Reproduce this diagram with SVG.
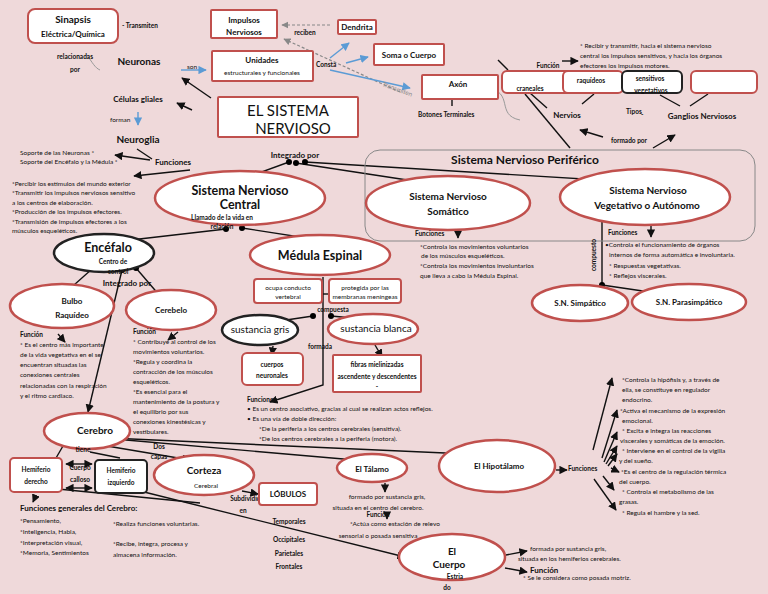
<svg xmlns="http://www.w3.org/2000/svg" width="768" height="594" viewBox="0 0 768 594">
<style>
text{font-family:Lato,"Liberation Sans",sans-serif;fill:#111}
.b{font-weight:bold}
.s{font-size:6.5px}
.m{font-size:8px}
.n{font-size:10px}
.L{font-size:12.5px;font-weight:bold}
.c{text-anchor:middle}
.box{fill:#fff;stroke:#c0504d;stroke-width:2}
.dbox{fill:#fff;stroke:#222;stroke-width:2}
.el{fill:#fff;stroke:#c0504d;stroke-width:2.5}
.del{fill:#fff;stroke:#222;stroke-width:2.5}
.ln{stroke:#111;stroke-width:1.4;fill:none}
.bl{stroke:#5b9bd5;stroke-width:1.4;fill:none}
.gd{stroke:#888;stroke-width:1.2;stroke-dasharray:3 2;fill:none}
.g{stroke:#999;stroke-width:1;fill:none}
</style>
<defs>
<marker id="a" viewBox="0 0 10 10" refX="9" refY="5" markerWidth="6" markerHeight="6" orient="auto"><path d="M0,0L10,5L0,10z" fill="#111"/></marker>
<marker id="ab" viewBox="0 0 10 10" refX="9" refY="5" markerWidth="6" markerHeight="6" orient="auto"><path d="M0,0L10,5L0,10z" fill="#5b9bd5"/></marker>
<marker id="ag" viewBox="0 0 10 10" refX="9" refY="5" markerWidth="6" markerHeight="6" orient="auto"><path d="M0,0L10,5L0,10z" fill="#888"/></marker>
<marker id="as" viewBox="0 0 10 10" refX="1" refY="5" markerWidth="6" markerHeight="6" orient="auto"><path d="M10,0L0,5L10,10z" fill="#111"/></marker>
</defs>
<rect width="768" height="594" fill="#efd9da"/>

<g id="connectors">
<path class="gd" d="M330,25H282" marker-end="url(#ag)"/>
<path class="gd" d="M400,92L284,39" marker-end="url(#ag)"/>
<path class="bl" d="M181,70H206" marker-end="url(#ab)"/>
<path class="bl" d="M330,58L349,43" marker-end="url(#ab)"/>
<path class="bl" d="M346,63L368,57" marker-end="url(#ab)"/>
<path class="bl" d="M330,70L410,88" marker-end="url(#ab)"/>
<path class="bl" d="M138,112V125" marker-end="url(#ab)"/>
<path class="ln" d="M211,98L182,78" marker-end="url(#a)"/>
<path class="ln" d="M192,110L177,103" marker-end="url(#a)"/>
<path class="g" d="M87,55C92,62 95,68 100,70"/>
<path class="g" d="M487,88C515,92 495,115 520,120"/>
<path class="ln" d="M452,99V106"/>
<path class="ln" d="M137,149L152,159"/>
<path class="ln" d="M150,160L115,155" marker-end="url(#a)"/>
<path class="ln" d="M190,170L134,176" marker-end="url(#a)"/>
<path class="ln" d="M289,162L240,180" marker-end="url(#a)"/>
<path class="ln" d="M296,163L440,185" marker-end="url(#a)"/>
<path class="ln" d="M305,162L650,183" marker-end="url(#a)"/>
<circle cx="289" cy="162" r="3"/><circle cx="296" cy="163" r="3"/><circle cx="305" cy="162" r="3"/>
<path class="ln" d="M498,60L508,70"/>
<path class="ln" d="M562,61H578" marker-end="url(#a)"/>
<path class="ln" d="M530,93L547,108"/>
<path class="ln" d="M594,94L582,104"/>
<path class="ln" d="M660,95L680,106"/>
<path class="ln" d="M708,94L690,106"/>
<path class="ln" d="M525,94L570,148" stroke-width="0.8"/>
<path class="ln" d="M603,137L580,130" marker-end="url(#a)"/>
<path class="ln" d="M653,148L675,135" marker-end="url(#a)"/>
<path class="ln" d="M458,222V238" marker-end="url(#a)"/>
<path class="ln" d="M651,218V237" marker-end="url(#a)"/>
<path class="ln" d="M602,220V285" stroke-width="0.8"/>
<circle cx="602" cy="285" r="3"/>
<path class="ln" d="M602,285L576,296" marker-end="url(#a)"/>
<path class="ln" d="M602,285L670,295" marker-end="url(#a)"/>
<path class="ln" d="M226,229L122,241" marker-end="url(#a)"/>
<path class="ln" d="M242,228L326,241" marker-end="url(#a)"/>
<circle cx="226" cy="229" r="3"/><circle cx="242" cy="228" r="3"/>
<path class="ln" d="M92,269L65,293" marker-end="url(#a)"/>
<path class="ln" d="M136,268L166,303" marker-end="url(#a)"/>
<path class="ln" d="M122,270L88,412" marker-end="url(#a)"/>
<circle cx="92" cy="269" r="3"/><circle cx="122" cy="270" r="3"/><circle cx="136" cy="268" r="3"/>
<path class="ln" d="M58,334L65,342" marker-end="url(#a)"/>
<path class="ln" d="M178,332L168,340" marker-end="url(#a)"/>
<path class="ln" d="M322,294H329"/>
<path class="ln" d="M323,277V385L270,402" marker-end="url(#a)" stroke-width="0.9"/>
<path class="ln" d="M313,316L266,323" marker-end="url(#a)"/>
<path class="ln" d="M331,316L385,321" marker-end="url(#a)"/>
<circle cx="313" cy="316" r="3"/><circle cx="331" cy="316" r="3"/>
<path class="ln" d="M273,346L272,355" marker-end="url(#a)"/>
<path class="ln" d="M375,345L382,357" marker-end="url(#a)"/>
<path class="ln" d="M109,438L490,455" marker-end="url(#a)"/>
<path class="ln" d="M103,438L378,462" marker-end="url(#a)"/>
<path class="ln" d="M101,445L190,460" marker-end="url(#a)"/>
<circle cx="103" cy="438" r="3"/><circle cx="109" cy="438" r="3"/><circle cx="101" cy="445" r="3"/>
<path class="ln" d="M63,446L56,458"/>
<path class="ln" d="M88,440L82,447"/>
<path class="ln" d="M90,452L120,458"/>
<path class="ln" d="M66,464H92" marker-start="url(#as)" marker-end="url(#a)"/>
<path class="ln" d="M66,488H92" marker-start="url(#as)" marker-end="url(#a)"/>
<path class="ln" d="M58,489L200,503"/>
<path class="ln" d="M136,490L405,557" marker-end="url(#a)"/>
<circle cx="58" cy="489" r="3"/><circle cx="136" cy="490" r="3"/>
<path class="ln" d="M36,495L33,502" marker-end="url(#a)"/>
<path class="ln" d="M242,491L258,494" marker-end="url(#a)"/>
<path class="ln" d="M385,483V492" marker-end="url(#a)"/>
<path class="ln" d="M387,513V519" marker-end="url(#a)"/>
<path class="ln" d="M556,470H567" marker-end="url(#a)"/>
<path class="ln" d="M593,450L612,378" marker-end="url(#a)"/>
<path class="ln" d="M602,458L617,410" marker-end="url(#a)"/>
<path class="ln" d="M604,462L617,432" marker-end="url(#a)"/>
<path class="ln" d="M606,464L617,446" marker-end="url(#a)"/>
<path class="ln" d="M608,466L617,454" marker-end="url(#a)"/>
<path class="ln" d="M611,468L619,472" marker-end="url(#a)"/>
<path class="ln" d="M603,476L614,490" marker-end="url(#a)"/>
<path class="ln" d="M594,479L616,510" marker-end="url(#a)"/>
<path class="ln" d="M506,555L527,551" marker-end="url(#a)"/>
<path class="ln" d="M505,568L527,572" marker-end="url(#a)"/>
</g>

<g id="snp-frame"><rect x="365" y="150" width="390" height="91" rx="15" fill="none" stroke="#888" stroke-width="1"/>
<text x="525" y="164" class="c b" font-size="12">Sistema Nervioso Periférico</text></g>

<g id="sinapsis"><rect class="box" x="28" y="9" width="90" height="34" rx="7"/>
<text x="73" y="23" class="c b n">Sinapsis</text><text x="73" y="37" class="c b m" font-size="8.5">Eléctrica/Química</text></g>
<g id="t1"><text x="122" y="28" class="b s">-  Transmiten</text>
<text x="75" y="59" class="c b s">relacionadas</text><text x="75" y="72" class="c b s">por</text>
<text x="139" y="65" class="c b n">Neuronas</text><text x="187" y="69" class="s">son</text>
<text x="138" y="102" class="c b m">Células gliales</text><text x="110" y="122" class="s">forman</text>
<text x="138" y="143" class="c b n">Neuroglia</text>
<text x="20" y="155" class="s">Soporte de las  Neuronas  *</text><text x="20" y="164" class="s">Soporte del Encéfalo y la Médula *</text>
<text x="155" y="165" class="b m">Funciones</text></g>
<g id="impulsos"><rect class="box" x="211" y="10" width="66" height="28" rx="1"/>
<text x="244" y="23" class="c b m">Impulsos</text><text x="244" y="35" class="c b m">Nerviosos</text>
<text x="305" y="35" class="c b s">reciben</text></g>
<g id="dendrita"><rect class="box" x="338" y="20" width="38" height="14" rx="1"/><text x="357" y="30" class="c b m">Dendrita</text></g>
<g id="unidades"><rect class="box" x="212" y="51" width="101" height="30" rx="1"/>
<text x="262" y="63" class="c b m">Unidades</text><text x="262" y="75" class="c s">estructurales y funcionales</text>
<text x="316" y="67" class="b s">Consta</text></g>
<g id="soma"><rect class="box" x="374" y="44" width="70" height="21" rx="1"/><text x="409" y="58" class="c b m">Soma o Cuerpo</text></g>
<g id="axon"><rect class="box" x="422" y="75" width="76" height="24" rx="1"/><text x="458" y="87" class="c b m">Axón</text>
<text x="418" y="117" class="b s">Botones Terminales</text>
<text x="382" y="86" class="s" fill="#888" style="fill:#888" transform="rotate(20 382 86)">Transmiten</text></g>
<g id="sistema"><rect class="box" x="218" y="97" width="140" height="40" rx="1"/>
<text x="288" y="116" class="c" font-size="15">EL SISTEMA</text><text x="293" y="134" class="c" font-size="15">NERVIOSO</text></g>
<g id="funciones-snc"><text x="12" y="186" class="s">*Percibir los estímulos  del mundo exterior</text>
<text x="12" y="195" class="s">*Transmitir los  impulsos  nerviosos sensitivo</text>
<text x="12" y="205" class="s">a los centros de elaboración.</text>
<text x="12" y="214" class="s">*Producción de los impulsos efectores.</text>
<text x="12" y="224" class="s">*Transmisión de impulsos efectores a los</text>
<text x="12" y="233" class="s">músculos esqueléticos.</text>
<text x="295" y="158" class="c b m">Integrado   por</text></g>
<g id="perif"><text x="548" y="68" class="c b s">Función</text>
<text x="580" y="48" class="s">* Recibir y transmitir, hacia el sistema nervioso</text>
<text x="580" y="58" class="s">central los impulsos sensitivos, y hacia los órganos</text>
<text x="580" y="68" class="s">efectores los impulsos motores.</text>
<rect class="box" x="502" y="71" width="71" height="22" rx="5"/><text x="530" y="91" class="c b s" font-size="7">craneales</text>
<rect class="box" x="563" y="71" width="60" height="22" rx="5"/><text x="591" y="83" class="c b s" font-size="7">raquídeos</text>
<rect class="dbox" x="622" y="71" width="60" height="22" rx="5"/><text x="650" y="81" class="c b s" font-size="7">sensitivos</text><text x="651" y="93" class="c b s" font-size="7">vegetativos</text>
<rect class="box" x="691" y="71" width="66" height="22" rx="5"/>
<text x="567" y="118" class="c b m" font-size="9">Nervios</text><text x="626" y="114" class="b s">Tipos</text><text x="641" y="117" class="b s">-</text>
<text x="702" y="119" class="c b m" font-size="9">Ganglios Nerviosos</text>
<text x="629" y="143" class="c b s">formado por</text></g>
<g id="snc"><ellipse class="el" cx="240" cy="198" rx="85" ry="27"/>
<text x="240" y="195" class="c L">Sistema Nervioso</text><text x="240" y="209" class="c L">Central</text>
<text x="222" y="220" class="c b s">Llamado de la vida en</text><text x="222" y="229" class="c b s">relación</text></g>
<g id="somatico"><ellipse class="el" cx="448" cy="203" rx="82" ry="27"/>
<text x="448" y="200" class="c b n" font-size="11">Sistema Nervioso</text><text x="448" y="215" class="c b n" font-size="11">Somático</text>
<text x="415" y="236" class="b s">Funciones</text>
<text x="420" y="249" class="s">*Controla los movimientos voluntarios</text>
<text x="421" y="258" class="s">de los músculos esqueléticos.</text>
<text x="420" y="268" class="s">*Controla los movimientos  involuntarios</text>
<text x="420" y="278" class="s">que lleva a cabo la Médula Espinal.</text></g>
<g id="vegetativo"><ellipse class="el" cx="645" cy="197" rx="85" ry="28"/>
<text x="648" y="194" class="c b n" font-size="11">Sistema Nervioso</text><text x="647" y="209" class="c b n" font-size="11">Vegetativo o Autónomo</text>
<text x="608" y="235" class="b s">Funciones</text>
<text x="605" y="247" class="s">•Controla el funcionamiento de órganos</text>
<text x="609" y="257" class="s">internos de forma automática e involuntaria.</text>
<text x="609" y="268" class="s">*  Respuestas vegetativas.</text>
<text x="609" y="278" class="s">*  Reflejos viscerales.</text>
<text x="596" y="255" class="c b s" transform="rotate(-90 596 255)">compuesto</text></g>
<g id="simpatico"><ellipse class="el" cx="580" cy="303" rx="48" ry="18"/><text x="580" y="306" class="c b m">S.N. Simpático</text></g>
<g id="parasimpatico"><ellipse class="el" cx="689" cy="302" rx="57" ry="18"/><text x="689" y="305" class="c b m">S.N. Parasimpático</text></g>
<g id="encefalo"><ellipse class="del" cx="104" cy="253" rx="50" ry="19" style="stroke:#222"/>
<text x="108" y="252" class="c L">Encéfalo</text><text x="113" y="264" class="c b s">Centro de</text><text x="118" y="274" class="c b s">control</text>
<text x="127" y="286" class="c b m">Integrado por</text></g>
<g id="medula"><ellipse class="el" cx="320" cy="255" rx="70" ry="20"/><text x="320" y="260" class="c L" font-size="12">Médula Espinal</text>
<rect class="box" x="254" y="279" width="68" height="24" rx="3"/><text x="288" y="290" class="c s" font-size="5.5">ocupa conducto</text><text x="288" y="299" class="c s" font-size="5.5">vertebral</text>
<rect class="box" x="329" y="279" width="72" height="24" rx="3"/><text x="365" y="290" class="c s" font-size="5.5">protegida por las</text><text x="365" y="299" class="c s" font-size="5.5">membranas meníngeas</text>
<text x="333" y="312" class="c b s">compuesta</text>
<text x="320" y="349" class="c b s">formada</text>
<text x="247" y="402" class="b s">Funciones</text>
<text x="247" y="411" class="s">•  Es un centro asociativo, gracias al cual se realizan actos reflejos.</text>
<text x="247" y="421" class="s">•  Es una vía de doble dirección:</text>
<text x="259" y="431" class="s">*De la periferia a los centros cerebrales (sensitiva).</text>
<text x="259" y="441" class="s">*De los centros cerebrales a la periferia (motora).</text></g>
<g id="gris"><ellipse class="del" cx="260" cy="330" rx="38" ry="15"/><text x="260" y="333" class="c n">sustancia gris</text></g>
<g id="blanca"><ellipse class="el" cx="373" cy="329" rx="45" ry="15"/><text x="376" y="332" class="c n">sustancia blanca</text></g>
<g id="cuerpos"><rect class="box" x="242" y="353" width="61" height="32" rx="5"/><text x="272" y="367" class="c b s" font-size="7">cuerpos</text><text x="272" y="378" class="c b s" font-size="7">neuronales</text></g>
<g id="fibras"><rect class="box" x="333" y="355" width="88" height="37" rx="1"/><text x="377" y="367" class="c b s" font-size="7">fibras mielinizadas</text><text x="377" y="379" class="c b s" font-size="7">ascendente y descendentes</text><text x="377" y="389" class="c b s">-</text></g>
<g id="bulbo"><ellipse class="el" cx="62" cy="306" rx="52" ry="22"/><text x="72" y="304" class="c b m">Bulbo</text><text x="72" y="318" class="c b m">Raquídeo</text>
<text x="20" y="337" class="b s">Función</text>
<text x="20" y="347" class="s">* Es el centro más importante</text><text x="20" y="357" class="s">de la vida vegetativa en el se</text>
<text x="20" y="367" class="s">encuentran situadas las</text><text x="20" y="377" class="s">conexiones centrales</text>
<text x="20" y="388" class="s">relacionadas con la respiración</text><text x="20" y="398" class="s">y el ritmo cardiaco.</text></g>
<g id="cerebelo"><ellipse class="el" cx="171" cy="310" rx="45" ry="20"/><text x="171" y="313" class="c b m">Cerebelo</text>
<text x="133" y="334" class="b s">Función</text>
<text x="133" y="344" class="s">*  Contribuye al control de los</text><text x="133" y="354" class="s">movimientos voluntarios.</text>
<text x="133" y="364" class="s">*Regula y coordina la</text><text x="133" y="374" class="s">contracción de los músculos</text>
<text x="133" y="384" class="s">esqueléticos.</text><text x="133" y="394" class="s">*Es esencial para el</text>
<text x="133" y="404" class="s">mantenimiento de la postura y</text><text x="133" y="414" class="s">el equilibrio  por sus</text>
<text x="133" y="424" class="s">conexiones kinestésicas y</text><text x="133" y="434" class="s">vestibulares.</text></g>
<g id="cerebro"><ellipse class="el" cx="87" cy="431" rx="43" ry="18"/><text x="95" y="434" class="c b n" font-size="11">Cerebro</text>
<text x="83" y="452" class="c b s">tiene</text><text x="159" y="449" class="c b s">Dos</text><text x="159" y="459" class="c b s">capas</text>
<text x="80" y="470" class="c b s">Cuerpo</text><text x="80" y="482" class="c b s">calloso</text>
<text x="20" y="511" class="b m">Funciones generales del Cerebro:</text>
<text x="20" y="523" class="s">*Pensamiento,</text><text x="20" y="534" class="s">*Inteligencia, Habla,</text>
<text x="20" y="545" class="s">*Interpretación visual,</text><text x="20" y="555" class="s">*Memoria, Sentimientos</text>
<text x="113" y="526" class="s">*Realiza funciones voluntarias.</text>
<text x="113" y="546" class="s">*Recibe, integra, procesa y</text><text x="113" y="557" class="s">almacena información.</text></g>
<g id="hder"><rect class="box" x="10" y="458" width="52" height="34" rx="4"/><text x="36" y="472" class="c b s">Hemiferio</text><text x="36" y="484" class="c b s">derecho</text></g>
<g id="hizq"><rect class="dbox" x="95" y="460" width="52" height="33" rx="4"/><text x="121" y="473" class="c b s">Hemiferio</text><text x="121" y="485" class="c b s">izquierdo</text></g>
<g id="corteza"><ellipse class="el" cx="204" cy="475" rx="50" ry="20"/><text x="204" y="474" class="c b n">Corteza</text><text x="206" y="488" class="c s" font-size="7.5">Cerebral</text>
<text x="247" y="501" class="c b s">Subdividida</text><text x="243" y="513" class="c b s">en</text></g>
<g id="lobulos"><rect class="box" x="259" y="483" width="58" height="22" rx="3"/><text x="288" y="497" class="c b m">LÓBULOS</text>
<text x="289" y="524" class="c b s">Temporales</text><text x="289" y="542" class="c b s">Occipitales</text>
<text x="289" y="556" class="c b s">Parietales</text><text x="289" y="569" class="c b s">Frontales</text></g>
<g id="talamo"><ellipse class="el" cx="372" cy="468" rx="35" ry="14"/><text x="372" y="472" class="c b m" font-size="9">El Tálamo</text>
<text x="387" y="499" class="c s">formado por sustancia gris,</text><text x="378" y="510" class="c s">situada en el centro del cerebro.</text>
<text x="378" y="517" class="c b s">Función</text>
<text x="395" y="526" class="c s">*Actúa como estación de relevo</text><text x="378" y="538" class="c s">sensorial  o posada sensitiva</text></g>
<g id="hipotalamo"><ellipse class="el" cx="497" cy="466" rx="58" ry="26"/><text x="499" y="469" class="c b m" font-size="9">El Hipotálamo</text>
<text x="568" y="471" class="b s">Funciones</text>
<text x="622" y="382" class="s">*Controla la hipófisis y, a través de</text><text x="622" y="392" class="s">ella, se constituye en regulador</text>
<text x="622" y="402" class="s">endocrino.</text><text x="620" y="413" class="s">*Activa el mecanismo de la expresión</text>
<text x="622" y="423" class="s">emocional.</text><text x="622" y="433" class="s">*  Excita e integra las reacciones</text>
<text x="620" y="443" class="s">viscerales y somáticas de la emoción.</text><text x="622" y="453" class="s">*  Interviene en el control de la vigilia</text>
<text x="619" y="463" class="s">y del sueño.</text><text x="621" y="474" class="s">*Es el centro de la regulación térmica</text>
<text x="619" y="484" class="s">del cuerpo.</text><text x="622" y="494" class="s">*  Controla el metabolismo de las</text>
<text x="619" y="504" class="s">grasas.</text><text x="622" y="515" class="s">*  Regula el hambre y la sed.</text></g>
<g id="estriado"><ellipse class="el" cx="452" cy="557" rx="53" ry="23"/><text x="452" y="555" class="c b n">El</text><text x="449" y="568" class="c b n">Cuerpo</text>
<text x="455" y="579" class="c b s">Estria</text><text x="447" y="590" class="c b s">do</text>
<text x="530" y="551" class="s">formada por sustancia gris,</text><text x="518" y="561" class="s">situada en los hemiferios cerebrales.</text>
<text x="530" y="573" class="b m">Función</text><text x="523" y="580" class="s">* Se le considera como posada motriz.</text></g>
</svg>
